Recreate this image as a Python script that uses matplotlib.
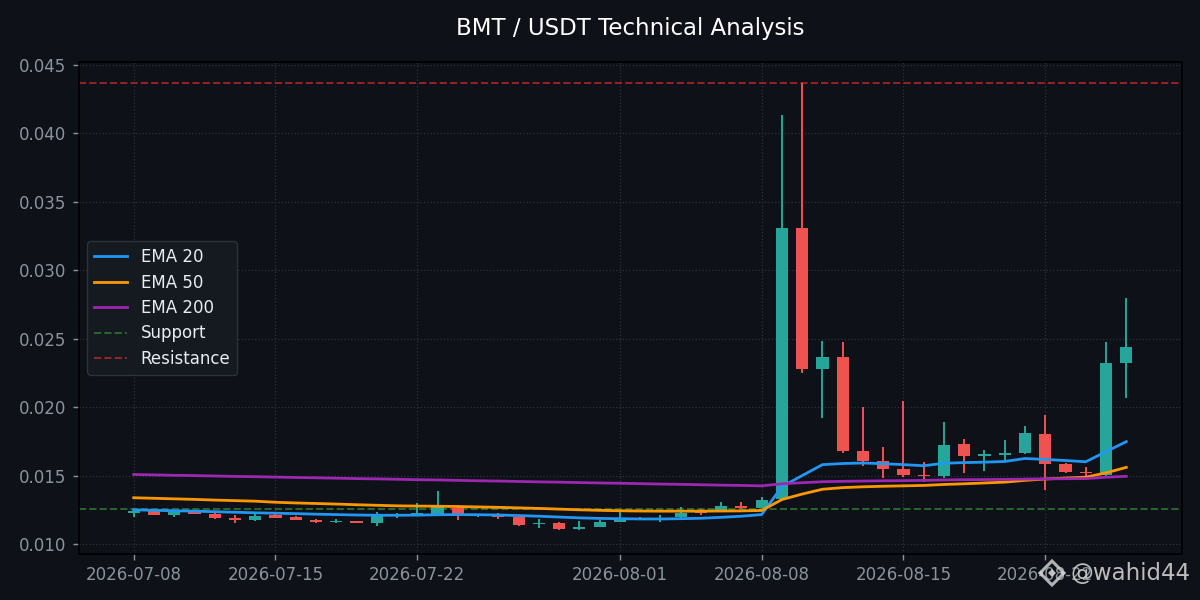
import matplotlib
matplotlib.use("Agg")
import matplotlib.pyplot as plt
import matplotlib.dates as mdates
from matplotlib.patches import Polygon
import numpy as np
import pandas as pd

# ---------------- data ----------------
start_date = "2026-07-08"
end_date = "2026-08-26"

opens = [0.01227, 0.01241, 0.01214, 0.01236, 0.01221, 0.01190, 0.01178, 0.01214, 0.01197, 0.01175,
         0.01161, 0.01168, 0.01156, 0.01202, 0.01212, 0.01220, 0.01260, 0.01205, 0.01210, 0.01195,
         0.01144, 0.01153, 0.01112, 0.01124, 0.01163, 0.01190, 0.01180, 0.01195, 0.01240, 0.01243,
         0.01280, 0.01263, 0.01327, 0.03307, 0.02281, 0.02366, 0.01680, 0.01606, 0.01548, 0.01504,
         0.01499, 0.01731, 0.01641, 0.01650, 0.01667, 0.01804, 0.01582, 0.01528, 0.01504, 0.02320]
highs = [0.01258, 0.01243, 0.01250, 0.01238, 0.01226, 0.01214, 0.01224, 0.01216, 0.01205, 0.01183,
         0.01183, 0.01170, 0.01234, 0.01226, 0.01300, 0.01387, 0.01285, 0.01222, 0.01229, 0.01197,
         0.01183, 0.01160, 0.01168, 0.01173, 0.01236, 0.01197, 0.01212, 0.01268, 0.01253, 0.01305,
         0.01305, 0.01343, 0.04135, 0.04366, 0.02483, 0.02474, 0.02001, 0.01709, 0.02045, 0.01599,
         0.01891, 0.01767, 0.01687, 0.01760, 0.01862, 0.01943, 0.01590, 0.01563, 0.02476, 0.02797]
lows = [0.01199, 0.01212, 0.01200, 0.01217, 0.01185, 0.01156, 0.01168, 0.01190, 0.01173, 0.01151,
        0.01151, 0.01151, 0.01134, 0.01192, 0.01210, 0.01218, 0.01175, 0.01200, 0.01183, 0.01132,
        0.01117, 0.01102, 0.01102, 0.01122, 0.01160, 0.01173, 0.01163, 0.01193, 0.01214, 0.01240,
        0.01256, 0.01260, 0.01320, 0.02247, 0.01923, 0.01667, 0.01570, 0.01485, 0.01492, 0.01455,
        0.01485, 0.01521, 0.01536, 0.01601, 0.01658, 0.01395, 0.01520, 0.01492, 0.01500, 0.02069]
closes = [0.01243, 0.01214, 0.01236, 0.01219, 0.01192, 0.01178, 0.01205, 0.01192, 0.01175, 0.01161,
          0.01170, 0.01156, 0.01202, 0.01212, 0.01225, 0.01270, 0.01205, 0.01215, 0.01200, 0.01139,
          0.01153, 0.01112, 0.01124, 0.01163, 0.01188, 0.01180, 0.01190, 0.01229, 0.01230, 0.01278,
          0.01265, 0.01319, 0.03307, 0.02281, 0.02366, 0.01682, 0.01609, 0.01550, 0.01506, 0.01497,
          0.01723, 0.01645, 0.01655, 0.01667, 0.01811, 0.01587, 0.01528, 0.01517, 0.02323, 0.02439]

ema20 = [0.01250, 0.01246, 0.01243, 0.01240, 0.01236, 0.01232, 0.01228, 0.01225, 0.01222, 0.01218,
         0.01215, 0.01212, 0.01210, 0.01210, 0.01211, 0.01214, 0.01215, 0.01214, 0.01212, 0.01208,
         0.01203, 0.01197, 0.01191, 0.01187, 0.01185, 0.01183, 0.01183, 0.01185, 0.01188, 0.01195,
         0.01203, 0.01215, 0.01420, 0.01500, 0.01580, 0.01588, 0.01592, 0.01587, 0.01580, 0.01572,
         0.01590, 0.01595, 0.01598, 0.01603, 0.01625, 0.01618, 0.01610, 0.01601, 0.01675, 0.01748]
ema50 = [0.01338, 0.01334, 0.01330, 0.01326, 0.01321, 0.01317, 0.01313, 0.01305, 0.01300, 0.01296,
         0.01292, 0.01287, 0.01283, 0.01279, 0.01277, 0.01276, 0.01274, 0.01271, 0.01268, 0.01264,
         0.01260, 0.01255, 0.01250, 0.01246, 0.01243, 0.01241, 0.01240, 0.01240, 0.01240, 0.01241,
         0.01242, 0.01245, 0.01325, 0.01365, 0.01400, 0.01412, 0.01418, 0.01422, 0.01425, 0.01428,
         0.01435, 0.01440, 0.01446, 0.01452, 0.01465, 0.01475, 0.01482, 0.01488, 0.01520, 0.01560]
ema200 = [0.01508, 0.01505, 0.01502, 0.01500, 0.01497, 0.01494, 0.01492, 0.01489, 0.01486, 0.01484,
          0.01481, 0.01478, 0.01476, 0.01473, 0.01470, 0.01468, 0.01465, 0.01462, 0.01460, 0.01457,
          0.01454, 0.01452, 0.01449, 0.01446, 0.01444, 0.01441, 0.01438, 0.01436, 0.01433, 0.01430,
          0.01428, 0.01425, 0.01440, 0.01448, 0.01455, 0.01458, 0.01460, 0.01462, 0.01463, 0.01465,
          0.01468, 0.01470, 0.01471, 0.01472, 0.01474, 0.01476, 0.01477, 0.01478, 0.01488, 0.01495]

support_level = 0.01255
resistance_level = 0.04366

title_text = "BMT / USDT Technical Analysis"
watermark_text = "@wahid44"

# ---------------- style ----------------
BG = "#0e1117"
UP = "#26a69a"
DOWN = "#ef5350"
TICK_COL = "#8b949e"

dates = pd.date_range(start_date, end_date, freq="D")
x = mdates.date2num(dates.to_pydatetime())

fig = plt.figure(figsize=(12, 6), dpi=100, facecolor=BG)
ax = fig.add_axes([79 / 1200, 1 - 554 / 600, (1182 - 79) / 1200, (554 - 62) / 600])
ax.set_facecolor(BG)

o = np.array(opens); h = np.array(highs); l = np.array(lows); c = np.array(closes)
up = c >= o
colors = np.where(up, UP, DOWN)
body_bottom = np.minimum(o, c)
body_height = np.maximum(np.abs(c - o), 0.00005)

ax.vlines(x, l, h, colors=colors, linewidth=1.4, zorder=2)
ax.bar(x, body_height, bottom=body_bottom, width=0.6, color=colors, linewidth=0, zorder=3)

ax.plot(x, ema20, color="#2196f3", linewidth=2, label="EMA 20", zorder=4)
ax.plot(x, ema50, color="#ff9800", linewidth=2, label="EMA 50", zorder=4)
ax.plot(x, ema200, color="#9c27b0", linewidth=2, label="EMA 200", zorder=4)
ax.axhline(support_level, color="#2e7d32", linestyle="--", linewidth=1.4, alpha=0.8,
           label="Support", zorder=1)
ax.axhline(resistance_level, color="#c62828", linestyle="--", linewidth=1.4, alpha=0.75,
           label="Resistance", zorder=1)

ax.set_xlim(x[0] - 2.7, x[-1] + 2.75)
ax.set_ylim(0.00927, 0.04522)

ax.xaxis.set_major_locator(mdates.AutoDateLocator())
ax.xaxis.set_major_formatter(mdates.DateFormatter("%Y-%m-%d"))
ax.yaxis.set_major_formatter(matplotlib.ticker.FormatStrFormatter("%.3f"))
ax.tick_params(colors=TICK_COL, labelsize=12, length=4, width=1, pad=5)
for sp in ax.spines.values():
    sp.set_color("#000000")
    sp.set_linewidth(1.2)
ax.grid(True, color="#30363d", linestyle=":", linewidth=0.9, alpha=0.9)
ax.set_axisbelow(True)

leg = ax.legend(loc="center left", fontsize=12, facecolor="#161b22", edgecolor="#30363d",
                framealpha=0.9, labelcolor="#e6edf3", borderaxespad=0.5, labelspacing=0.45)
leg.get_frame().set_linewidth(1)

fig.text(630 / 1200, 1 - 28 / 600, title_text, color="#ffffff", fontsize=16.5,
         ha="center", va="center")

# watermark: logo + handle
def diamond(px, py, r, **kw):
    pts = [(px, py + r), (px + r, py), (px, py - r), (px - r, py)]
    pts = [(a / 1200, 1 - b / 600) for a, b in pts]
    return Polygon(pts, closed=True, transform=fig.transFigure, **kw)
wm_col = "#d0d0d0"
fig.patches.append(diamond(1052, 573, 12, facecolor="none", edgecolor=wm_col, linewidth=2.2, alpha=0.85))
fig.patches.append(diamond(1052, 573, 4, facecolor=wm_col, edgecolor="none", alpha=0.9))
fig.patches.append(diamond(1041, 573, 2.5, facecolor=wm_col, edgecolor="none", alpha=0.9))
fig.patches.append(diamond(1063, 573, 2.5, facecolor=wm_col, edgecolor="none", alpha=0.9))
fig.text(1071 / 1200, 1 - 574 / 600, watermark_text, color=wm_col, fontsize=16.5,
         ha="left", va="center", alpha=0.9)

fig.savefig("out.png", dpi=100, facecolor=BG)
